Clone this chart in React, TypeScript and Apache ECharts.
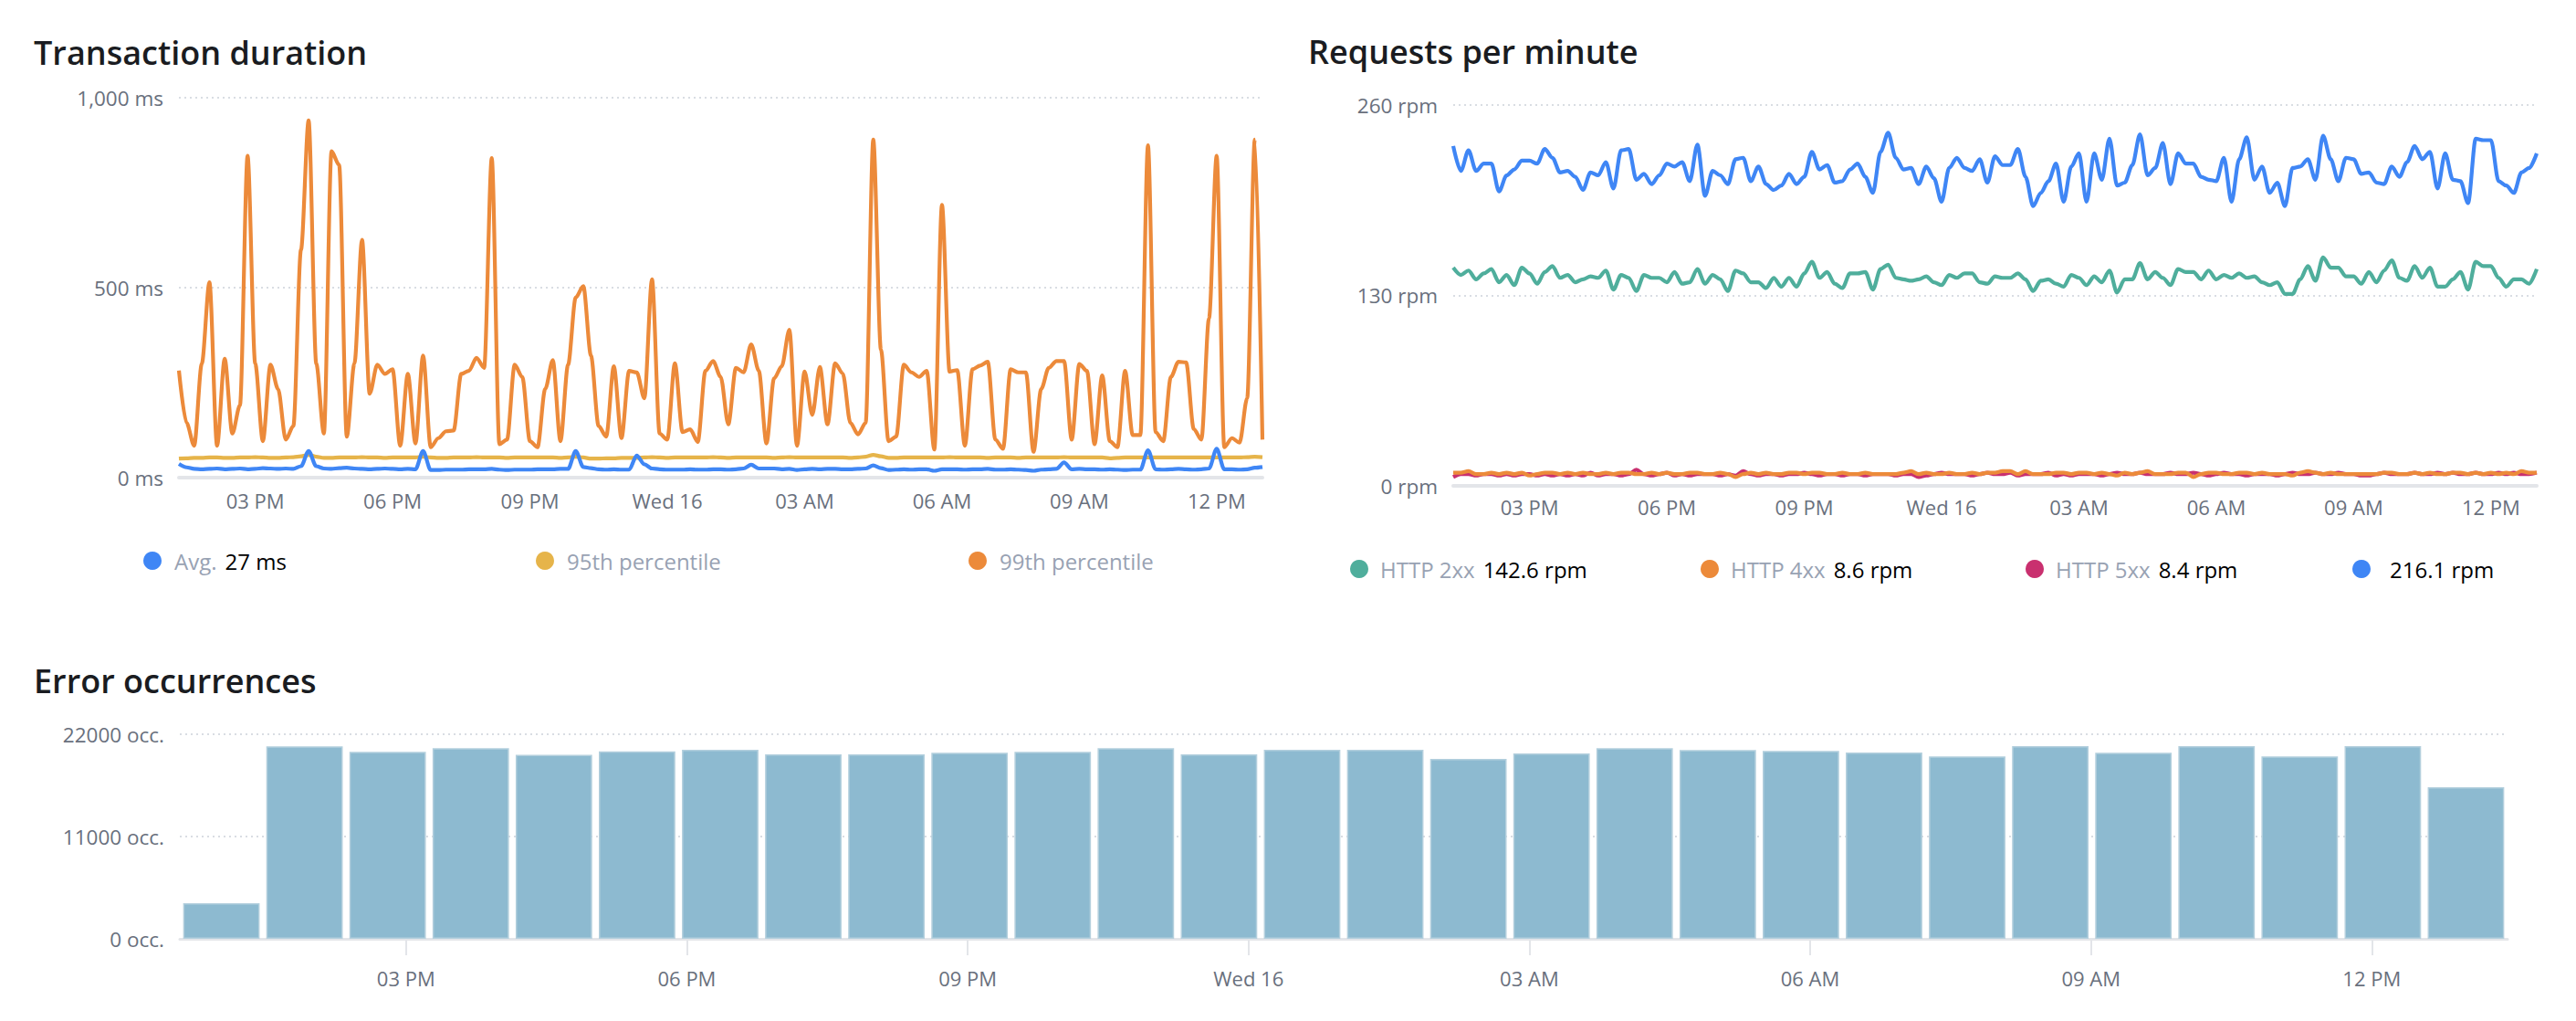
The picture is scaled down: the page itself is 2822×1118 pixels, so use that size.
import React, { useEffect, useRef } from 'react';
import * as echarts from 'echarts';

const FONT = '"Open Sans", "Noto Sans", sans-serif';

// x values are hours counted from Tue 00:00; the two line charts use 10 minute buckets
const lineStartHour = 13 + 20 / 60;
const lineStepHour = 1 / 6;

const durationP99 = [
  282, 144, 84, 300, 514, 84, 313, 116, 190, 847, 300, 96,
  297, 233, 100, 136, 600, 940, 300, 116, 859, 823, 108, 300,
  626, 221, 297, 273, 285, 84, 273, 90, 321, 80, 104, 122,
  124, 273, 281, 315, 289, 841, 88, 100, 297, 265, 96, 80,
  233, 309, 96, 297, 474, 504, 321, 136, 108, 293, 104, 281,
  277, 209, 522, 116, 100, 301, 120, 127, 94, 281, 307, 265,
  140, 289, 277, 351, 281, 90, 261, 293, 389, 84, 279, 165,
  291, 140, 301, 274, 144, 114, 144, 890, 337, 96, 108, 297,
  277, 265, 281, 74, 718, 279, 283, 84, 285, 295, 305, 100,
  76, 285, 277, 277, 68, 233, 289, 307, 307, 100, 299, 281,
  88, 269, 96, 80, 281, 112, 112, 875, 120, 96, 265, 305,
  303, 128, 100, 420, 847, 80, 104, 92, 209, 890, 100,
];

const durationAvg = [
  36, 27, 23, 22, 23, 24, 22, 23, 24, 22, 23, 25,
  24, 23, 24, 23, 30, 70, 30, 24, 23, 25, 26, 24,
  23, 22, 23, 24, 23, 22, 23, 22, 70, 20, 20, 21,
  21, 21, 22, 22, 22, 23, 21, 20, 21, 21, 21, 22,
  22, 22, 23, 23, 70, 28, 25, 22, 21, 22, 21, 21,
  58, 35, 24, 22, 21, 21, 21, 22, 21, 21, 22, 22,
  21, 22, 24, 34, 24, 24, 24, 22, 23, 20, 22, 23,
  22, 23, 23, 22, 22, 23, 24, 32, 25, 20, 21, 22,
  21, 22, 22, 18, 22, 22, 22, 21, 22, 22, 23, 21,
  21, 22, 21, 20, 18, 21, 22, 23, 40, 22, 23, 22,
  22, 21, 22, 21, 20, 21, 21, 72, 22, 21, 22, 23,
  22, 21, 22, 24, 76, 22, 22, 21, 22, 26, 28,
];

const durationP95 = [
  50, 51, 52, 52, 53, 53, 52, 52, 53, 53, 54, 53,
  52, 52, 53, 54, 56, 60, 55, 52, 52, 53, 53, 53,
  54, 53, 53, 52, 53, 53, 53, 53, 55, 53, 52, 52,
  53, 53, 53, 54, 53, 53, 53, 52, 53, 53, 53, 53,
  53, 53, 52, 53, 55, 53, 50, 50, 51, 51, 52, 52,
  52, 53, 54, 53, 52, 53, 53, 53, 53, 53, 54, 53,
  52, 53, 53, 53, 53, 53, 52, 53, 54, 53, 53, 53,
  53, 53, 53, 53, 52, 53, 55, 60, 56, 52, 52, 53,
  53, 53, 53, 53, 53, 54, 53, 53, 53, 53, 52, 53,
  53, 53, 52, 53, 53, 53, 53, 53, 54, 53, 53, 53,
  53, 53, 51, 52, 53, 53, 53, 53, 53, 53, 53, 53,
  53, 53, 53, 53, 53, 53, 53, 53, 54, 55, 54,
];

const rpmTotal = [
  232, 215, 229, 215, 220, 220, 201, 212, 216, 222, 222, 220,
  230, 224, 214, 215, 211, 202, 214, 212, 221, 203, 229, 230,
  209, 213, 206, 212, 220, 218, 221, 208, 233, 198, 215, 212,
  206, 223, 224, 208, 218, 206, 202, 205, 213, 206, 211, 228,
  216, 219, 207, 208, 216, 220, 211, 200, 228, 241, 224, 216,
  217, 206, 218, 210, 194, 217, 224, 217, 215, 223, 207, 225,
  219, 219, 230, 211, 191, 200, 208, 220, 194, 218, 227, 194,
  227, 209, 237, 205, 207, 219, 240, 212, 217, 234, 206, 227,
  220, 220, 211, 209, 208, 224, 194, 223, 238, 209, 218, 200,
  207, 191, 217, 218, 223, 209, 239, 223, 208, 224, 223, 213,
  214, 207, 206, 218, 211, 221, 232, 223, 228, 203, 227, 209,
  208, 193, 237, 236, 236, 208, 205, 200, 214, 217, 227,
];

const rpm2xx = [
  149, 144, 147, 141, 145, 148, 139, 144, 137, 149, 145, 138,
  146, 150, 142, 144, 139, 141, 143, 142, 147, 134, 144, 142,
  133, 144, 142, 142, 139, 146, 138, 139, 148, 138, 144, 141,
  133, 147, 145, 139, 139, 135, 142, 136, 142, 136, 145, 153,
  142, 146, 138, 135, 145, 145, 146, 134, 148, 151, 142, 141,
  140, 141, 143, 139, 137, 144, 142, 145, 145, 139, 138, 143,
  142, 142, 145, 141, 133, 140, 141, 138, 136, 144, 142, 137,
  143, 139, 147, 132, 141, 141, 152, 141, 146, 142, 137, 148,
  146, 146, 141, 147, 141, 144, 142, 145, 142, 143, 139, 137,
  139, 131, 131, 141, 150, 140, 156, 149, 149, 143, 143, 138,
  146, 139, 147, 154, 142, 140, 150, 142, 149, 136, 136, 141,
  146, 134, 153, 150, 150, 142, 136, 141, 141, 138, 148,
];

const rpm4xx = [
  9, 9, 10, 8, 8, 9, 8, 9, 8, 9, 7, 8,
  9, 9, 8, 9, 8, 9, 8, 8, 9, 8, 9, 9,
  8, 8, 9, 8, 9, 8, 8, 9, 9, 8, 8, 9,
  8, 6, 8, 9, 8, 9, 8, 8, 9, 9, 8, 9,
  9, 8, 8, 9, 8, 8, 9, 8, 8, 8, 8, 9,
  10, 8, 9, 8, 8, 9, 8, 8, 9, 8, 9, 9,
  10, 10, 8, 10, 8, 8, 8, 9, 9, 8, 9, 9,
  8, 9, 8, 7, 9, 8, 9, 10, 8, 8, 8, 9,
  9, 6, 8, 9, 9, 8, 8, 9, 9, 8, 9, 8,
  8, 8, 7, 9, 10, 9, 8, 9, 8, 8, 8, 8,
  8, 8, 9, 9, 8, 8, 9, 8, 9, 8, 8, 9,
  9, 8, 9, 8, 9, 8, 9, 8, 10, 9, 9,
];

const rpm5xx = [
  6, 8, 8, 7, 8, 8, 7, 8, 7, 8, 8, 7,
  8, 7, 8, 7, 8, 7, 9, 7, 8, 8, 7, 8,
  11, 8, 7, 8, 9, 7, 8, 7, 8, 8, 8, 7,
  8, 7, 10, 8, 7, 8, 8, 7, 8, 8, 9, 8,
  7, 8, 8, 7, 8, 8, 7, 8, 8, 8, 7, 8,
  8, 6, 7, 8, 9, 8, 8, 8, 7, 8, 9, 8,
  8, 9, 7, 8, 8, 8, 9, 7, 8, 7, 8, 8,
  8, 7, 8, 9, 8, 8, 9, 8, 8, 8, 9, 8,
  8, 9, 8, 7, 8, 9, 8, 8, 7, 8, 8, 8,
  7, 8, 9, 8, 8, 9, 8, 8, 9, 8, 8, 7,
  7, 8, 9, 8, 8, 8, 9, 8, 8, 9, 8, 9,
  8, 8, 9, 8, 8, 9, 8, 9, 8, 8, 9,
];

// error histogram: 28 equal buckets between these two hours
const errorStartHour = 12 + 35 / 60;
const errorEndHour = 37 + 27 / 60;
const errorCounts = [
  3825, 20690, 20100, 20500, 19780, 20170, 20330, 19840, 19840, 20010,
  20100, 20500, 19840, 20330, 20330, 19350, 19940, 20500, 20300, 20200,
  20040, 19610, 20730, 20010, 20730, 19610, 20730, 16310,
];

const tickHours = [15, 18, 21, 24, 27, 30, 33, 36];
const tickLabels = ['03 PM', '06 PM', '09 PM', 'Wed 16', '03 AM', '06 AM', '09 AM', '12 PM'];

const legendValues: Record<string, string> = {
  'Avg.': '27 ms',
  'HTTP 2xx': '142.6 rpm',
  'HTTP 4xx': '8.6 rpm',
  'HTTP 5xx': '8.4 rpm',
  Total: '216.1 rpm',
};

const C = {
  blue: '#3f86f5',
  yellow: '#e6b44a',
  orange: '#ec8a3a',
  green: '#4fae9c',
  magenta: '#c9306f',
  bar: '#8dbad0',
  tick: '#69707d',
  legend: '#98a2b3',
  title: '#1a1c21',
  axis: '#e3e5e9',
  grid: '#d9dde3',
};

const toPoints = (values: number[]) =>
  values.map((v, i) => [lineStartHour + i * lineStepHour, v]);

const tickText = (v: number) => {
  const idx = tickHours.indexOf(Math.round(v));
  return idx >= 0 ? tickLabels[idx] : '';
};

const xAxisFor = (gridIndex: number, min: number, max: number, margin: number, ticks: boolean, lineWidth: number) => ({
  type: 'value',
  gridIndex,
  min,
  max,
  axisLine: { show: true, onZero: false, lineStyle: { color: C.axis, width: lineWidth } },
  axisTick: {
    show: ticks,
    customValues: tickHours,
    length: 18,
    lineStyle: { color: C.axis, width: 2 },
  },
  axisLabel: {
    customValues: tickHours,
    formatter: tickText,
    margin,
    fontSize: 22,
    color: C.tick,
    fontFamily: FONT,
  },
  splitLine: { show: false },
});

const yAxisFor = (gridIndex: number, max: number, interval: number, fmt: (v: number) => string) => ({
  type: 'value',
  gridIndex,
  min: 0,
  max,
  interval,
  axisLine: { show: false },
  axisTick: { show: false },
  axisLabel: { formatter: fmt, margin: 17, fontSize: 22.5, color: C.tick, fontFamily: FONT },
  splitLine: { lineStyle: { color: C.grid, type: [2, 4], width: 2 } },
});

const legendFor = (name: string, centerX: number, centerY: number, gap: number) => ({
  data: [name],
  left: centerX - 10,
  top: centerY - 14,
  padding: 0,
  icon: 'circle',
  itemWidth: 20,
  itemHeight: 20,
  selectedMode: false,
  formatter: (n: string) => {
    const v = legendValues[n];
    if (n === 'Total') return `{e|}{v|${v}}`;
    return v ? `{n|${n}}{v|${v}}` : `{n|${n}}`;
  },
  textStyle: {
    fontSize: 24,
    fontFamily: FONT,
    rich: {
      n: { fontSize: 24, fontFamily: FONT, color: C.legend, padding: [0, 9, 0, gap] },
      v: { fontSize: 24, fontFamily: FONT, color: '#000' },
      e: { fontSize: 24, width: gap + 8 },
    },
  },
});

const titleFor = (text: string, left: number, centerY: number) => ({
  text,
  left,
  top: centerY - 20,
  padding: 0,
  textStyle: { fontSize: 36, fontWeight: 600, color: C.title, fontFamily: FONT, lineHeight: 40 },
});

const lineSeries = (name: string, values: number[], color: string, axis: number) => ({
  name,
  type: 'line',
  xAxisIndex: axis,
  yAxisIndex: axis,
  data: toPoints(values),
  showSymbol: false,
  symbol: 'none',
  smooth: 0.3,
  smoothMonotone: 'x',
  color,
  lineStyle: { color, width: 4.2, join: 'round' },
  emphasis: { disabled: true },
});

const App: React.FC = () => {
  const chartRef = useRef<HTMLDivElement>(null);

  useEffect(() => {
    if (!chartRef.current) return;
    const chart = echarts.init(chartRef.current, undefined, { renderer: 'svg' });

    const bucket = (errorEndHour - errorStartHour) / errorCounts.length;
    const errorPoints = errorCounts.map((v, i) => [errorStartHour + (i + 0.5) * bucket, v]);
    const lineEndHour = lineStartHour + (durationP99.length - 1) * lineStepHour;

    const option: any = {
      animation: false,
      backgroundColor: '#fff',
      title: [
        titleFor('Transaction duration', 37, 57),
        titleFor('Requests per minute', 1433, 56),
        titleFor('Error occurrences', 37, 745),
      ],
      grid: [
        { left: 196, top: 107, width: 1187, height: 416, outerBoundsMode: 'none' },
        { left: 1592, top: 115, width: 1187, height: 417, outerBoundsMode: 'none' },
        { left: 197, top: 804, width: 2550, height: 224, outerBoundsMode: 'none' },
      ],
      xAxis: [
        xAxisFor(0, lineStartHour, lineEndHour, 14, false, 4),
        xAxisFor(1, lineStartHour, lineEndHour, 12, false, 4),
        xAxisFor(2, errorStartHour, errorEndHour, 32, true, 3),
      ],
      yAxis: [
        yAxisFor(0, 1000, 500, (v) => `${v.toLocaleString('en-US')} ms`),
        yAxisFor(1, 260, 130, (v) => `${v} rpm`),
        yAxisFor(2, 22000, 11000, (v) => `${v} occ.`),
      ],
      legend: [
        legendFor('Avg.', 167, 616, 9),
        legendFor('95th percentile', 597, 616, 9),
        legendFor('99th percentile', 1071, 616, 9),
        legendFor('HTTP 2xx', 1489, 625, 8),
        legendFor('HTTP 4xx', 1873, 625, 8),
        legendFor('HTTP 5xx', 2229, 625, 8),
        legendFor('Total', 2587, 625, 8),
      ],
      series: [
        lineSeries('95th percentile', durationP95, C.yellow, 0),
        lineSeries('Avg.', durationAvg, C.blue, 0),
        lineSeries('99th percentile', durationP99, C.orange, 0),
        lineSeries('HTTP 2xx', rpm2xx, C.green, 1),
        lineSeries('HTTP 5xx', rpm5xx, C.magenta, 1),
        lineSeries('HTTP 4xx', rpm4xx, C.orange, 1),
        lineSeries('Total', rpmTotal, C.blue, 1),
        {
          name: 'Errors',
          type: 'bar',
          xAxisIndex: 2,
          yAxisIndex: 2,
          data: errorPoints,
          barWidth: '92%',
          itemStyle: { color: C.bar, borderColor: '#b3cfdd', borderWidth: 1.5 },
          emphasis: { disabled: true },
        },
      ],
    };

    chart.setOption(option);
    const onResize = () => chart.resize();
    window.addEventListener('resize', onResize);
    return () => {
      window.removeEventListener('resize', onResize);
      chart.dispose();
    };
  }, []);

  return (
    <div
      ref={chartRef}
      style={{ position: 'fixed', left: 0, top: 0, width: '100vw', height: '100vh' }}
    />
  );
};

export default App;
